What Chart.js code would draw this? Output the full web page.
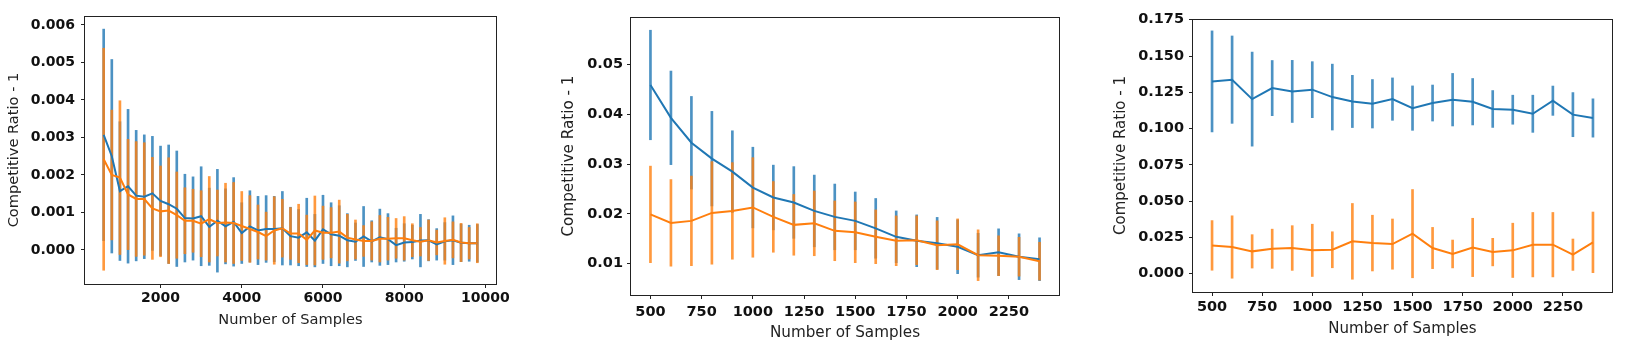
<!DOCTYPE html>
<html>
<head>
<meta charset="utf-8">
<script src="https://cdn.jsdelivr.net/npm/chart.js@4.4.1/dist/chart.umd.min.js"></script>
<style>
html, body { margin: 0; padding: 0; background: #fff; }
body { width: 1626px; height: 356px; position: relative; overflow: hidden; }
.panel { position: absolute; top: 0; }
</style>
</head>
<body>
<div class="panel" style="left:0px"><canvas id="c1" width="526" height="356"></canvas></div>
<div class="panel" style="left:540px"><canvas id="c2" width="529" height="356"></canvas></div>
<div class="panel" style="left:1095px"><canvas id="c3" width="527" height="356"></canvas></div>
<script>
// ---- panel 1 : 600..9800 samples ----
const samples1 = [600, 800, 1000, 1200, 1400, 1600, 1800, 2000, 2200, 2400, 2600, 2800, 3000, 3200, 3400, 3600,
  3800, 4000, 4200, 4400, 4600, 4800, 5000, 5200, 5400, 5600, 5800, 6000, 6200, 6400, 6600, 6800, 7000, 7200,
  7400, 7600, 7800, 8000, 8200, 8400, 8600, 8800, 9000, 9200, 9400, 9600, 9800];
const blueMean1 = [0.00307, 0.00250, 0.00157, 0.00170, 0.00145, 0.00142, 0.00151, 0.00131, 0.00122, 0.00110,
  0.00085, 0.00084, 0.00090, 0.00062, 0.00078, 0.00063, 0.00075, 0.00045, 0.00063, 0.00052, 0.00056, 0.00056,
  0.00058, 0.00037, 0.00033, 0.00047, 0.00025, 0.00055, 0.00042, 0.00038, 0.00026, 0.00022, 0.00036, 0.00023,
  0.00034, 0.00029, 0.00013, 0.00020, 0.00021, 0.00025, 0.00026, 0.00015, 0.00023, 0.00026, 0.00019, 0.00018, 0.00018];
const blueErr1 = [0.00282, 0.00258, 0.00185, 0.00205, 0.00174, 0.00165, 0.00152, 0.00146, 0.00158, 0.00154,
  0.00117, 0.00111, 0.00132, 0.00103, 0.00137, 0.00100, 0.00118, 0.00081, 0.00095, 0.00091, 0.00089, 0.00087,
  0.00098, 0.00077, 0.00075, 0.00091, 0.00070, 0.00091, 0.00084, 0.00080, 0.00071, 0.00050, 0.00080, 0.00055,
  0.00075, 0.00068, 0.00045, 0.00050, 0.00045, 0.00070, 0.00055, 0.00042, 0.00050, 0.00065, 0.00050, 0.00048, 0.00050];
const orangeMean1 = [0.00242, 0.00200, 0.00193, 0.00148, 0.00136, 0.00136, 0.00111, 0.00103, 0.00105, 0.00093,
  0.00078, 0.00078, 0.00070, 0.00082, 0.00072, 0.00073, 0.00072, 0.00064, 0.00056, 0.00048, 0.00037, 0.00052,
  0.00058, 0.00044, 0.00044, 0.00027, 0.00052, 0.00046, 0.00046, 0.00049, 0.00033, 0.00028, 0.00024, 0.00024,
  0.00030, 0.00030, 0.00031, 0.00031, 0.00026, 0.00022, 0.00026, 0.00020, 0.00024, 0.00027, 0.00020, 0.00018, 0.00018];
const orangeErr1 = [0.00296, 0.00173, 0.00205, 0.00147, 0.00153, 0.00150, 0.00136, 0.00121, 0.00141, 0.00115,
  0.00088, 0.00084, 0.00088, 0.00114, 0.00088, 0.00105, 0.00108, 0.00092, 0.00089, 0.00072, 0.00064, 0.00090,
  0.00077, 0.00069, 0.00078, 0.00066, 0.00092, 0.00071, 0.00067, 0.00084, 0.00062, 0.00052, 0.00041, 0.00051,
  0.00062, 0.00057, 0.00053, 0.00058, 0.00044, 0.00038, 0.00054, 0.00033, 0.00062, 0.00048, 0.00051, 0.00042, 0.00052];
const xTicks1 = [2000, 4000, 6000, 8000, 10000];
const yTicks1 = [0, 0.001, 0.002, 0.003, 0.004, 0.005, 0.006];

// ---- panel 2 : 500..2400 samples ----
const samples2 = [500, 600, 700, 800, 900, 1000, 1100, 1200, 1300, 1400, 1500, 1600, 1700, 1800, 1900, 2000, 2100, 2200, 2300, 2400];
const blueMean2 = [0.0459, 0.0393, 0.0343, 0.0311, 0.0285, 0.0253, 0.0233, 0.0223, 0.0206, 0.0194,
  0.0186, 0.0171, 0.0154, 0.0146, 0.0141, 0.0134, 0.0117, 0.0123, 0.0114, 0.0109];
const blueErr2 = [0.0110, 0.0094, 0.0093, 0.0095, 0.0082, 0.0081, 0.0065, 0.0072, 0.0072, 0.0066,
  0.0058, 0.0060, 0.0052, 0.0052, 0.0052, 0.0054, 0.0044, 0.0047, 0.0046, 0.0043];
const orangeMean2 = [0.0199, 0.0182, 0.0186, 0.0202, 0.0206, 0.0213, 0.0194, 0.0178, 0.0181, 0.0166,
  0.0163, 0.0154, 0.0146, 0.0147, 0.0137, 0.0139, 0.0117, 0.0116, 0.0114, 0.0105];
const orangeErr2 = [0.0097, 0.0087, 0.0090, 0.0103, 0.0097, 0.0100, 0.0071, 0.0061, 0.0065, 0.0060,
  0.0061, 0.0054, 0.0050, 0.0049, 0.0049, 0.0051, 0.0051, 0.0040, 0.0039, 0.0038];
const xTicks2 = [500, 750, 1000, 1250, 1500, 1750, 2000, 2250];
const yTicks2 = [0.01, 0.02, 0.03, 0.04, 0.05];

// ---- panel 3 : 500..2400 samples ----
const samples3 = [500, 600, 700, 800, 900, 1000, 1100, 1200, 1300, 1400, 1500, 1600, 1700, 1800, 1900, 2000, 2100, 2200, 2300, 2400];
const blueMean3 = [0.1325, 0.1337, 0.1203, 0.1279, 0.1256, 0.1268, 0.1217, 0.1187, 0.1171, 0.1203,
  0.1141, 0.1176, 0.1199, 0.1185, 0.1135, 0.1130, 0.1102, 0.1192, 0.1096, 0.1073];
const blueErr3 = [0.0348, 0.0301, 0.0324, 0.0190, 0.0214, 0.0193, 0.0227, 0.0180, 0.0167, 0.0146,
  0.0153, 0.0124, 0.0181, 0.0160, 0.0127, 0.0100, 0.0128, 0.0101, 0.0152, 0.0132];
const orangeMean3 = [0.0195, 0.0184, 0.0154, 0.0172, 0.0177, 0.0161, 0.0165, 0.0223, 0.0211, 0.0204,
  0.0276, 0.0177, 0.0136, 0.0181, 0.0149, 0.0161, 0.0200, 0.0200, 0.0131, 0.0216];
const orangeErr3 = [0.0171, 0.0215, 0.0115, 0.0135, 0.0154, 0.0180, 0.0124, 0.0261, 0.0192, 0.0173,
  0.0304, 0.0142, 0.0096, 0.0201, 0.0095, 0.0187, 0.0222, 0.0222, 0.0108, 0.0209];
const xTicks3 = [500, 750, 1000, 1250, 1500, 1750, 2000, 2250];
const yTicks3 = [0, 0.025, 0.05, 0.075, 0.1, 0.125, 0.15, 0.175];

Chart.defaults.font.family = "'DejaVu Sans', sans-serif";

const BLUE = '#1f77b4', ORANGE = '#ff7f0e';
const BLUE_BAR = 'rgba(31,119,180,0.8)', ORANGE_BAR = 'rgba(255,127,14,0.8)';

// matplotlib-like box around the axes
const frame = {
  id: 'frame',
  afterDraw(chart) {
    const { ctx, chartArea: a } = chart;
    ctx.save();
    ctx.strokeStyle = '#222';
    ctx.lineWidth = 1;
    ctx.strokeRect(a.left - 0.5, a.top + 0.5, a.right - a.left + 1, a.bottom - a.top);
    ctx.restore();
  }
};

const errBars = (xs, m, e) => xs.map((x, i) => ({ x: x, y: [m[i] - e[i], m[i] + e[i]] }));
const meanLine = (xs, m) => xs.map((x, i) => ({ x: x, y: m[i] }));

function makePanel(id, p) {
  new Chart(document.getElementById(id), {
    type: 'bar',
    data: {
      datasets: [
        { type: 'bar', data: errBars(p.xs, p.bm, p.be), backgroundColor: BLUE_BAR, borderWidth: 0, barThickness: 2, grouped: false, order: 4 },
        { type: 'bar', data: errBars(p.xs, p.om, p.oe), backgroundColor: ORANGE_BAR, borderWidth: 0, barThickness: 2, grouped: false, order: 3 },
        { type: 'line', data: meanLine(p.xs, p.bm), borderColor: BLUE, borderWidth: 2, pointRadius: 0, tension: 0, fill: false, order: 2 },
        { type: 'line', data: meanLine(p.xs, p.om), borderColor: ORANGE, borderWidth: 2, pointRadius: 0, tension: 0, fill: false, order: 1 }
      ]
    },
    options: {
      responsive: false,
      animation: false,
      devicePixelRatio: 1,
      events: [],
      layout: { padding: { top: p.padTop, right: p.padRight, left: 0, bottom: 0 } },
      plugins: { legend: { display: false }, tooltip: { enabled: false } },
      scales: {
        x: {
          type: 'linear', min: p.xMin, max: p.xMax, offset: false,
          afterBuildTicks: s => { s.ticks = p.xTicks.map(v => ({ value: v })); },
          afterFit: s => { s.height = p.xh; },
          grid: { display: true, drawOnChartArea: false, drawTicks: true, tickLength: 4, color: '#222', offset: false },
          border: { display: false },
          ticks: { color: '#111', font: { size: p.tickSize, weight: 'bold' }, padding: p.xTickPad, maxRotation: 0, autoSkip: false, callback: v => String(v) },
          title: { display: true, text: 'Number of Samples', color: '#222', font: { size: p.titleSize }, padding: { top: 0, bottom: p.xTitlePad } }
        },
        y: {
          type: 'linear', min: p.yMin, max: p.yMax,
          afterBuildTicks: s => { s.ticks = p.yTicks.map(v => ({ value: v })); },
          afterFit: s => { s.width = p.yw; },
          grid: { display: true, drawOnChartArea: false, drawTicks: true, tickLength: 4, color: '#222' },
          border: { display: false },
          ticks: { color: '#111', font: { size: p.tickSize, weight: 'bold' }, padding: p.yTickPad, callback: v => v.toFixed(p.dec) },
          title: { display: true, text: 'Competitive Ratio - 1', color: '#222', font: { size: p.titleSize }, padding: { top: p.yTitlePad, bottom: 0 } }
        }
      }
    },
    plugins: [frame]
  });
}

makePanel('c1', {
  xs: samples1, bm: blueMean1, be: blueErr1, om: orangeMean1, oe: orangeErr1,
  xTicks: xTicks1, yTicks: yTicks1, xMin: 140, xMax: 10260, yMin: -0.000907, yMax: 0.00624, dec: 3,
  tickSize: 14, titleSize: 14.6,
  yw: 85, xh: 72, padTop: 16, padRight: 30, yTitlePad: 5.7, xTitlePad: 27.2, xTickPad: 1.6, yTickPad: 6
});
makePanel('c2', {
  xs: samples2, bm: blueMean2, be: blueErr2, om: orangeMean2, oe: orangeErr2,
  xTicks: xTicks2, yTicks: yTicks2, xMin: 405, xMax: 2495, yMin: 0.00371, yMax: 0.05956, dec: 2,
  tickSize: 14.5, titleSize: 15.2,
  yw: 91, xh: 61, padTop: 17, padRight: 10, yTitlePad: 19.6, xTitlePad: 13.9, xTickPad: 4.3, yTickPad: 4
});
makePanel('c3', {
  xs: samples3, bm: blueMean3, be: blueErr3, om: orangeMean3, oe: orangeErr3,
  xTicks: xTicks3, yTicks: yTicks3, xMin: 405, xMax: 2495, yMin: -0.0126, yMax: 0.1755, dec: 3,
  tickSize: 14.5, titleSize: 15,
  yw: 98, xh: 64, padTop: 19, padRight: 10, yTitlePad: 17, xTitlePad: 18, xTickPad: 2.3, yTickPad: 5
});
</script>
</body>
</html>
